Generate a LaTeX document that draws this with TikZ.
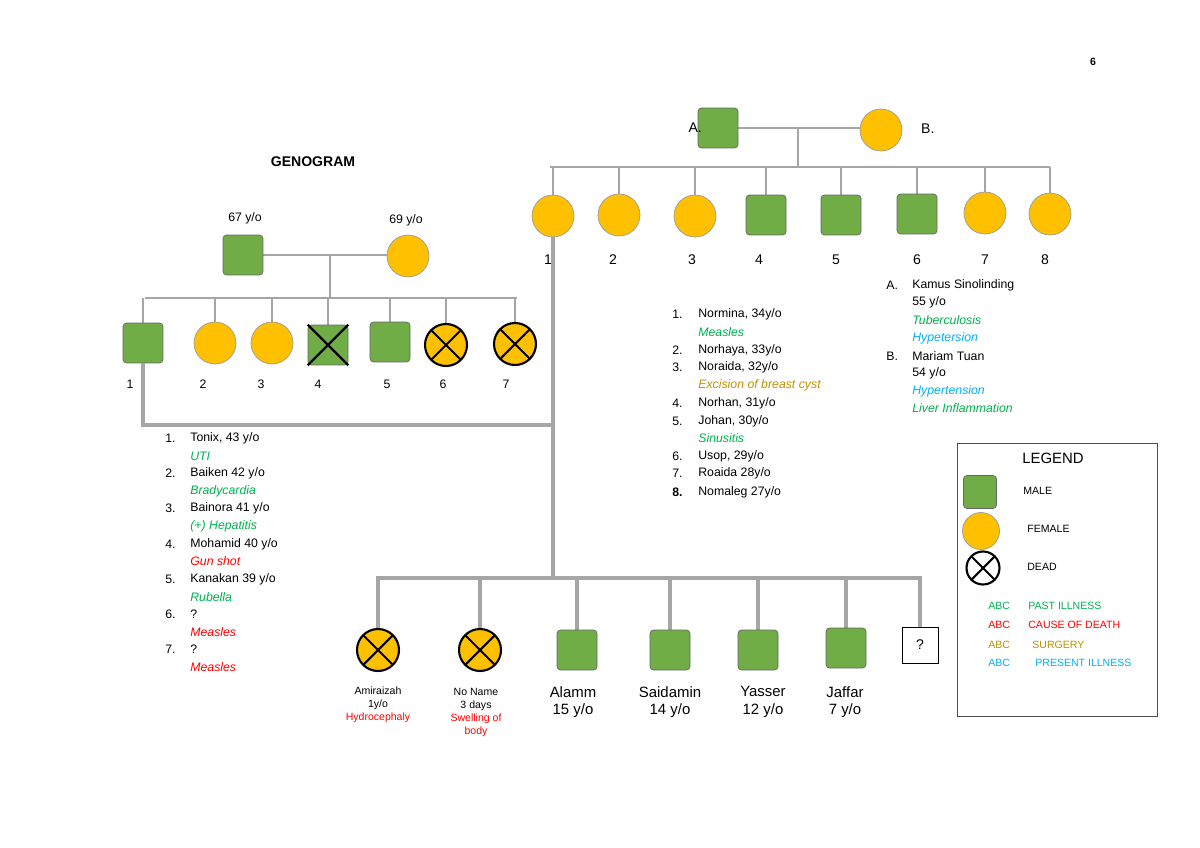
\documentclass[tikz,border=0pt]{standalone}
\usepackage{fontspec}
\setmainfont{Liberation Sans}
\usepackage{xcolor}
\definecolor{mgreen}{HTML}{70AD47}
\definecolor{fyellow}{HTML}{FFC000}
\definecolor{tgreen}{HTML}{00B050}
\definecolor{tred}{HTML}{FF0000}
\definecolor{tgold}{HTML}{BF9000}
\definecolor{tblue}{HTML}{00B0F0}
\begin{document}
\begin{tikzpicture}[x=0.02cm,y=-0.02cm]
		\tikzstyle{every node}+=[font=\fontsize{7}{8}\selectfont]
		\tikzstyle{male}=[draw=black!60,fill=mgreen,rounded corners=2pt,minimum size=0.8cm,inner sep=0pt]
		\tikzstyle{female}=[draw=black!40,fill=fyellow,circle,minimum size=0.84cm,inner sep=0pt]
		\tikzstyle{xmark}=[path picture={\draw [line width=1.2pt] (path picture bounding box.north west) -- (path picture bounding box.south east) (path picture bounding box.north east) -- (path picture bounding box.south west);}]
		\tikzstyle{dead}=[draw=black,line width=1.2pt,fill=fyellow,circle,xmark,minimum size=0.84cm,inner sep=0pt]
		\tikzstyle{tie}=[gray!70,line width=1.6pt]
		\tikzstyle{bar}=[gray!70,line width=2.4pt]
		\tikzstyle{lst}=[anchor=west,inner sep=0pt]
		\useasboundingbox (0,0) rectangle (1200,848);
		\node [font=\bfseries\fontsize{6}{7}\selectfont] at (1093,62) {6};
		\node [font=\bfseries\fontsize{8}{9}\selectfont] at (313,162) {GENOGRAM};
		% left family
		\draw [tie] (243,255) -- (408,255);
		\draw [tie] (330,255) -- (330,298);
		\draw [tie] (145,298) -- (517,298);
		\foreach \x in {143,215,272,328,390,446,515} \draw [tie] (\x,298) -- (\x,330);
		\node [male] (lf) at (243,255) {};
		\node [female] (lm) at (408,256) {};
		\node at (245,218) {67 y/o};
		\node at (406,220) {69 y/o};
		\node [male] (l1) at (143,343) {};
		\node [female] (l2) at (215,343) {};
		\node [female] (l3) at (272,343) {};
		\node [male] (l4) at (328,345) {};
		\draw [line width=1.3pt] (l4.north west) -- (l4.south east) (l4.north east) -- (l4.south west);
		\node [male] (l5) at (390,342) {};
		\node [dead] (l6) at (446,345) {};
		\node [dead] (l7) at (515,344) {};
		\foreach \x/\n in {130/1,203/2,261/3,318/4,387/5,443/6,506/7} \node at (\x,384) {\n};
		% right family
		\draw [tie] (718,128) -- (881,128);
		\draw [tie] (798,128) -- (798,167);
		\draw [tie] (550,167) -- (1050,167);
		\foreach \x in {553,619,695,766,841,917,985,1050} \draw [tie] (\x,167) -- (\x,200);
		\node [male] (ra) at (718,128) {};
		\node [female] (rb) at (881,130) {};
		\node [anchor=east] at (708,128) {\fontsize{8}{9}\selectfont A.};
		\node [anchor=west] at (915,129) {\fontsize{8}{9}\selectfont B.};
		\node [female] (r1) at (553,216) {};
		\node [female] (r2) at (619,215) {};
		\node [female] (r3) at (695,216) {};
		\node [male] (r4) at (766,215) {};
		\node [male] (r5) at (841,215) {};
		\node [male] (r6) at (917,214) {};
		\node [female] (r7) at (985,213) {};
		\node [female] (r8) at (1050,214) {};
		\foreach \x/\n in {548/1,613/2,692/3,759/4,836/5,917/6,985/7,1045/8} \node at (\x,260) {\fontsize{8}{9}\selectfont\n};
		% marriage and children
		\draw [bar] (l1) -- (143,425) -- (553,425);
		\draw [bar] (r1) -- (553,578);
		\draw [bar] (376,578) -- (922,578);
		\foreach \x in {378,480,577,670,758,846,920} \draw [bar] (\x,578) -- (\x,630);
		\node [dead] (c1) at (378,650) {};
		\node [dead] (c2) at (480,650) {};
		\node [male] (c3) at (577,650) {};
		\node [male] (c4) at (670,650) {};
		\node [male] (c5) at (758,650) {};
		\node [male] (c6) at (846,648) {};
		\node [draw,fill=white,minimum size=0.72cm,inner sep=0pt] (c7) at (920,645) {\fontsize{8}{9}\selectfont ?};
		\node [align=center,font=\fontsize{6}{7.5}\selectfont] at (378,705) {Amiraizah\\1y/o\\\textcolor{tred}{Hydrocephaly}};
		\node [align=center,font=\fontsize{6}{7.5}\selectfont,anchor=north] at (476,682) {No Name\\3 days\\\textcolor{tred}{Swelling of}\\\textcolor{tred}{body}};
		\node [align=center,font=\fontsize{8.5}{10}\selectfont] at (573,702) {Alamm\\15 y/o};
		\node [align=center,font=\fontsize{8.5}{10}\selectfont] at (670,702) {Saidamin\\14 y/o};
		\node [align=center,font=\fontsize{8.5}{10}\selectfont] at (763,702) {Yasser\\12 y/o};
		\node [align=center,font=\fontsize{8.5}{10}\selectfont] at (845,702) {Jaffar\\7 y/o};
		% left list
		\foreach \y/\n/\t in {438/1./{Tonix, 43 y/o},473/2./{Baiken 42 y/o},508/3./{Bainora 41 y/o},544/4./{Mohamid 40 y/o},579/5./{Kanakan 39 y/o},614/6./?,649/7./?} {
			\node [lst] at (165,\y) {\n};
			\node [lst] at (190,\y) {\t};
		}
		\foreach \y/\c/\t in {456/tgreen/UTI,491/tgreen/Bradycardia,526/tgreen/{(+) Hepatitis},561/tred/{Gun shot},597/tgreen/Rubella,632/tred/Measles,667/tred/Measles}
			\node [lst,text=\c,font=\itshape\fontsize{7}{8}\selectfont] at (190,\y) {\t};
		% middle list
		\foreach \y/\n/\t in {314/1./{Normina, 34y/o},350/2./{Norhaya, 33y/o},367/3./{Noraida, 32y/o},403/4./{Norhan, 31y/o},421/5./{Johan, 30y/o},456/6./{Usop, 29y/o},473/7./{Roaida 28y/o}} {
			\node [lst] at (672,\y) {\n};
			\node [lst] at (698,\y) {\t};
		}
		\node [lst,font=\bfseries\fontsize{7}{8}\selectfont] at (672,492) {8.};
		\node [lst] at (698,492) {Nomaleg 27y/o};
		\node [lst,text=tgreen,font=\itshape\fontsize{7}{8}\selectfont] at (698,332) {Measles};
		\node [lst,text=tgold,font=\itshape\fontsize{7}{8}\selectfont] at (698,385) {Excision of breast cyst};
		\node [lst,text=tgreen,font=\itshape\fontsize{7}{8}\selectfont] at (698,438) {Sinusitis};
		% right list
		\node [lst] at (886,285) {A.};
		\node [lst] at (912,285) {Kamus Sinolinding};
		\node [lst] at (912,302) {55 y/o};
		\node [lst,text=tgreen,font=\itshape\fontsize{7}{8}\selectfont] at (912,320) {Tuberculosis};
		\node [lst,text=tblue,font=\itshape\fontsize{7}{8}\selectfont] at (912,338) {Hypetersion};
		\node [lst] at (886,356) {B.};
		\node [lst] at (912,356) {Mariam Tuan};
		\node [lst] at (912,373) {54 y/o};
		\node [lst,text=tblue,font=\itshape\fontsize{7}{8}\selectfont] at (912,391) {Hypertension};
		\node [lst,text=tgreen,font=\itshape\fontsize{7}{8}\selectfont] at (912,408) {Liver Inflammation};
		% legend
		\draw [black!70] (957,443) rectangle (1157,716);
		\node at (1053,458) {\fontsize{8.5}{10}\selectfont LEGEND};
		\node [male,minimum size=0.66cm] (gm) at (980,492) {};
		\node [female,minimum size=0.74cm] (gf) at (981,531) {};
		\node [draw=black,line width=1.2pt,circle,xmark,minimum size=0.66cm,inner sep=0pt] (gd) at (983,568) {};
		\node [lst,font=\fontsize{6}{7}\selectfont] at (1023,491) {MALE};
		\node [lst,font=\fontsize{6}{7}\selectfont] at (1027,529) {FEMALE};
		\node [lst,font=\fontsize{6}{7}\selectfont] at (1027,567) {DEAD};
		\foreach \y/\c/\t/\x in {606/tgreen/{PAST ILLNESS}/1028,625/tred/{CAUSE OF DEATH}/1028,645/tgold/SURGERY/1032,663/tblue/{PRESENT ILLNESS}/1035} {
			\node [lst,text=\c,font=\fontsize{6}{7}\selectfont] at (988,\y) {ABC};
			\node [lst,text=\c,font=\fontsize{6}{7}\selectfont] at (\x,\y) {\t};
		}
	\end{tikzpicture}
\end{document}
